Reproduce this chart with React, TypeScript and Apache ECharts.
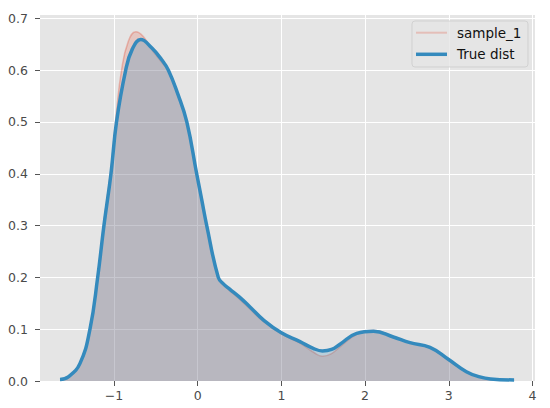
import React, { useEffect, useRef } from 'react';
import * as echarts from 'echarts';

const xTicks = [-1, 0, 1, 2, 3, 4];
const yTicks = [0, 0.1, 0.2, 0.3, 0.4, 0.5, 0.6, 0.7];

const trueX = [-1.645, -1.546, -1.406, -1.287, -1.195, -1.12, -1.036, -0.97, -0.86, -0.78, -0.68, -0.55, -0.43, -0.35, -0.24, -0.13, -0.012, 0.048, 0.108, 0.246, 0.31, 0.386, 0.5, 0.625, 0.784, 1.0, 1.222, 1.38, 1.49, 1.6, 1.7, 1.9, 2.1, 2.337, 2.536, 2.775, 2.994, 3.21, 3.37, 3.5, 3.78];
const trueY = [0.003, 0.008, 0.034, 0.1, 0.2, 0.3, 0.4, 0.5, 0.6, 0.641, 0.659, 0.643, 0.62, 0.6, 0.555, 0.5, 0.4, 0.35, 0.3, 0.2, 0.187, 0.177, 0.162, 0.143, 0.118, 0.093, 0.076, 0.063, 0.058, 0.061, 0.071, 0.092, 0.096, 0.085, 0.074, 0.065, 0.042, 0.018, 0.008, 0.004, 0.002];

const sampleX = [-1.645, -1.546, -1.406, -1.287, -1.195, -1.12, -1.036, -0.97, -0.91, -0.83, -0.74, -0.65, -0.55, -0.43, -0.35, -0.24, -0.13, -0.012, 0.048, 0.108, 0.246, 0.31, 0.386, 0.5, 0.625, 0.784, 1.0, 1.222, 1.38, 1.49, 1.6, 1.7, 1.9, 2.1, 2.337, 2.536, 2.775, 2.994, 3.21, 3.37, 3.5, 3.78];
const sampleY = [0.003, 0.008, 0.035, 0.103, 0.205, 0.308, 0.41, 0.52, 0.6, 0.655, 0.674, 0.665, 0.64, 0.615, 0.598, 0.553, 0.5, 0.4, 0.349, 0.3, 0.198, 0.185, 0.174, 0.158, 0.139, 0.115, 0.091, 0.073, 0.056, 0.048, 0.053, 0.066, 0.09, 0.098, 0.086, 0.074, 0.064, 0.04, 0.017, 0.008, 0.004, 0.002];

const seriesNames = ['sample_1', 'True dist'];

const FONT = 'DejaVu Sans';

function fmt(v: number, digits: number) {
  return v.toFixed(digits).replace('-', '\u2212');
}

export default function App() {
  const ref = useRef<HTMLDivElement>(null);
  useEffect(() => {
    if (!ref.current) return;
    const chart = echarts.init(ref.current, undefined, { renderer: 'svg' });
    const sampleData = sampleX.map((x, i) => [x, sampleY[i]]);
    const trueData = trueX.map((x, i) => [x, trueY[i]]);
    chart.setOption({
      animation: false,
      grid: {
        left: 40,
        right: 15,
        top: 15,
        bottom: 27,
        show: true,
        backgroundColor: '#E5E5E5',
        borderWidth: 0,
      },
      xAxis: {
        type: 'value',
        min: -1.884,
        max: 4.03,
        axisLine: { show: false, onZero: false },
        axisTick: {
          show: true,
          length: 5,
          lineStyle: { color: '#555555', width: 1 },
          customValues: xTicks,
        },
        axisLabel: {
          customValues: xTicks,
          color: '#4a4a4a',
          fontSize: 12.5,
          fontFamily: FONT,
          margin: 8,
          formatter: (v: number) => fmt(v, 0),
        },
        splitLine: { show: true, lineStyle: { color: '#FFFFFF', width: 1 } },
      },
      yAxis: {
        type: 'value',
        min: 0,
        max: 0.7064,
        axisLine: { show: false, onZero: false },
        axisTick: {
          show: true,
          length: 5,
          lineStyle: { color: '#555555', width: 1 },
          customValues: yTicks,
        },
        axisLabel: {
          customValues: yTicks,
          color: '#4a4a4a',
          fontSize: 12.5,
          fontFamily: FONT,
          margin: 12,
          formatter: (v: number) => fmt(v, 1),
        },
        splitLine: { show: true, lineStyle: { color: '#FFFFFF', width: 1 } },
      },
      series: [
        {
          name: seriesNames[0],
          type: 'line',
          data: sampleData,
          smooth: 0.45,
          showSymbol: false,
          lineStyle: { color: '#E24A33', width: 1.5, opacity: 0.3 },
          areaStyle: { color: '#E24A33', opacity: 0.2 },
          z: 2,
        },
        {
          name: seriesNames[1],
          type: 'line',
          data: trueData,
          smooth: 0.45,
          showSymbol: false,
          lineStyle: { color: '#348ABD', width: 3.5 },
          areaStyle: { color: '#348ABD', opacity: 0.25 },
          z: 3,
        },
      ],
      graphic: [
        {
          type: 'group',
          z: 100,
          children: [
            {
              type: 'rect',
              shape: { x: 412, y: 21, width: 116, height: 46, r: 3 },
              style: { fill: 'rgba(229,229,229,0.8)', stroke: 'rgba(204,204,204,0.8)', lineWidth: 1 },
              z: 100,
            },
            {
              type: 'line',
              shape: { x1: 416, y1: 32.7, x2: 447, y2: 32.7 },
              style: { stroke: 'rgba(226,74,51,0.25)', lineWidth: 2 },
              z: 101,
            },
            {
              type: 'line',
              shape: { x1: 416, y1: 54.3, x2: 447, y2: 54.3 },
              style: { stroke: '#348ABD', lineWidth: 3.5 },
              z: 101,
            },
            {
              type: 'text',
              x: 457,
              y: 32.7,
              style: { text: seriesNames[0], fill: '#111111', font: `13.5px "${FONT}"`, verticalAlign: 'middle', align: 'left' },
              z: 101,
            },
            {
              type: 'text',
              x: 457,
              y: 54.3,
              style: { text: seriesNames[1], fill: '#111111', font: `13.5px "${FONT}"`, verticalAlign: 'middle', align: 'left' },
              z: 101,
            },
          ],
        },
      ],
    });
    return () => chart.dispose();
  }, []);
  return <div ref={ref} style={{ position: 'absolute', left: 0, top: 0, width: 550, height: 408 }} />;
}
